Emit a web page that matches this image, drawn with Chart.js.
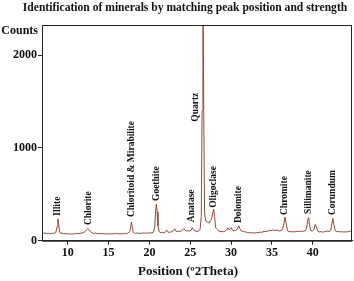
<!DOCTYPE html>
<html>
<head>
<meta charset="utf-8">
<script src="https://cdn.jsdelivr.net/npm/chart.js@4/dist/chart.umd.min.js"></script>
<style>
  html, body { margin:0; padding:0; background:#fff; }
  #wrap { width:354px; height:281px; position:relative; }
</style>
</head>
<body>
<div id="wrap"><canvas id="xrd"></canvas></div>
<script>
// diffractogram
const twoTheta = [
  6.85, 7.0, 7.2, 7.4, 7.6, 7.8, 8.0, 8.2, 8.4, 8.55, 8.7, 8.8, 8.9, 9.0, 9.15, 9.3, 9.5, 9.7, 9.9,
  10.1, 10.3, 10.5, 10.7, 10.9, 11.1, 11.3, 11.5, 11.7, 11.9, 12.1, 12.3, 12.45, 12.6, 12.8,
  13.0, 13.2, 13.4, 13.6, 13.8, 14.0, 14.2, 14.4, 14.6, 14.8, 15.0, 15.2, 15.4, 15.6, 15.8,
  16.0, 16.2, 16.4, 16.6, 16.8, 17.0, 17.2, 17.4, 17.6, 17.7, 17.8, 17.9, 18.0, 18.15, 18.3,
  18.5, 18.7, 18.9, 19.1, 19.3, 19.5, 19.7, 19.9, 20.1, 20.3, 20.5, 20.65, 20.75, 20.85, 20.95,
  21.05, 21.2, 21.4, 21.6, 21.8, 22.0, 22.1, 22.2, 22.4, 22.6, 22.8, 23.0, 23.1, 23.2, 23.4,
  23.6, 23.8, 24.0, 24.2, 24.35, 24.5, 24.7, 24.9, 25.1, 25.25, 25.4, 25.6, 25.8, 26.0, 26.2,
  26.35, 26.45, 26.55, 26.65, 26.75, 26.9, 27.1, 27.3, 27.45, 27.6, 27.75, 27.87, 27.98, 28.1,
  28.25, 28.35, 28.5, 28.7, 28.9, 29.1, 29.3, 29.45, 29.6, 29.75, 29.9, 30.0, 30.15, 30.35,
  30.55, 30.75, 30.95, 31.1, 31.3, 31.5, 31.7, 31.9, 32.1, 32.3, 32.5, 32.7, 32.9, 33.1, 33.3,
  33.5, 33.7, 33.9, 34.1, 34.3, 34.5, 34.7, 34.9, 35.1, 35.3, 35.5, 35.7, 35.9, 36.1, 36.3,
  36.45, 36.6, 36.75, 36.9, 37.1, 37.3, 37.5, 37.7, 37.9, 38.1, 38.3, 38.5, 38.7, 38.9, 39.1,
  39.25, 39.4, 39.5, 39.6, 39.75, 39.95, 40.15, 40.3, 40.45, 40.6, 40.8, 41.0, 41.2, 41.4,
  41.6, 41.8, 42.0, 42.2, 42.35, 42.46, 42.58, 42.75, 42.95, 43.2, 43.4, 43.6, 43.8, 44.0,
  44.2, 44.4, 44.6, 44.8
];
const counts = [
  82, 78, 84, 76, 80, 74, 78, 82, 80, 90, 150, 235, 170, 95, 78, 82, 74, 78, 72,
  76, 70, 74, 72, 76, 78, 74, 80, 82, 86, 96, 118, 130, 120, 96,
  84, 78, 82, 76, 80, 74, 78, 72, 76, 72, 74, 70, 76, 72, 80,
  74, 78, 72, 76, 74, 80, 76, 82, 100, 150, 200, 150, 96, 82, 78,
  84, 76, 82, 78, 86, 80, 84, 80, 86, 84, 92, 150, 300, 395, 310,
  160, 96, 86, 90, 86, 100, 116, 98, 90, 94, 96, 118, 128, 106, 98,
  104, 100, 112, 130, 118, 104, 108, 104, 112, 140, 118, 104, 100, 104, 120,
  260, 1400, 3000, 1400, 300, 210, 200, 190, 215, 230, 300, 340, 260, 140,
  130, 120, 104, 98, 100, 96, 104, 118, 140, 116, 130, 142, 118, 106,
  110, 124, 160, 126, 104, 100, 94, 92, 88, 86, 84, 86, 82, 88, 86,
  92, 90, 96, 100, 98, 104, 110, 108, 116, 112, 110, 114, 104, 110, 120,
  180, 255, 180, 110, 96, 100, 94, 98, 96, 102, 98, 104, 100, 104, 110,
  140, 230, 250, 170, 108, 104, 120, 175, 150, 104, 94, 98, 92, 96,
  100, 104, 98, 110, 190, 240, 180, 108, 96, 100, 94, 98, 92, 96,
  94, 100, 104, 112
];

const xTicks = [10, 15, 20, 25, 30, 35, 40];
const yTicks = [0, 1000, 2000];

// mineral labels: name, 2theta, counts where the text starts
const minerals   = ['Illite', 'Chlorite', 'Chloritoid & Mirabilite', 'Goethite', 'Anatase', 'Quartz', 'Oligoclase', 'Dolomite', 'Chromite', 'Sillimanite', 'Corundum'];
const mineralX   = [8.8, 12.5, 17.8, 20.82, 25.1, 25.65, 27.87, 30.94, 36.5, 39.46, 42.46];
const mineralY   = [270, 169, 255, 428, 200, 1282, 355, 190, 277, 288, 277];

const serif = "'Liberation Serif', 'Times New Roman', serif";

const extras = {
    id: 'extras',
    afterDraw(chart) {
        const { ctx, chartArea: a, scales: { x, y } } = chart;
        ctx.save();
        // frame
        ctx.strokeStyle = '#222';
        ctx.lineWidth = 1;
        ctx.strokeRect(a.left + 0.5, a.top + 0.5, a.right - a.left - 1, a.bottom - a.top);

        ctx.fillStyle = '#111';
        ctx.textBaseline = 'middle';
        ctx.font = `bold 11.6px ${serif}`;
        ctx.textAlign = 'center';
        ctx.fillText('Identification of minerals by matching peak position and strength', 185, 8);

        ctx.font = `bold 12px ${serif}`;
        ctx.textAlign = 'right';
        ctx.fillText('Counts', 38, 31);

        ctx.font = `bold 13px ${serif}`;
        ctx.textAlign = 'center';
        ctx.fillText('Position (\u00BA2Theta)', 188, 272);

        ctx.font = `bold 9.5px ${serif}`;
        ctx.textAlign = 'left';
        minerals.forEach((m, i) => {
            ctx.save();
            ctx.translate(x.getPixelForValue(mineralX[i]), y.getPixelForValue(mineralY[i]));
            ctx.rotate(-Math.PI / 2);
            ctx.fillText(m, 0, 0);
            ctx.restore();
        });
        ctx.restore();
    }
};

new Chart(document.getElementById('xrd'), {
    type: 'line',
    data: {
        datasets: [{
            data: twoTheta.map((t, i) => ({ x: t, y: counts[i] })),
            borderColor: '#8a4b3a',
            borderWidth: 1,
            pointRadius: 0,
            tension: 0,
            fill: false
        }]
    },
    options: {
        responsive: true,
        maintainAspectRatio: false,
        animation: false,
        layout: { padding: { top: 25, right: 2, left: 0, bottom: 0 } },
        plugins: { legend: { display: false }, tooltip: { enabled: false }, title: { display: false } },
        scales: {
            x: {
                type: 'linear', min: 6.85, max: 44.8,
                afterBuildTicks: s => { s.ticks = xTicks.map(v => ({ value: v })); },
                afterFit: s => { s.height = 40.3; },
                grid: { drawOnChartArea: false, tickLength: 4, color: '#222' },
                border: { color: '#222' },
                ticks: { color: '#111', padding: 1, maxRotation: 0, callback: v => String(v), font: { family: serif, size: 12, weight: 'bold' } }
            },
            y: {
                min: 0, max: 2325,
                afterBuildTicks: s => { s.ticks = yTicks.map(v => ({ value: v })); },
                afterFit: s => { s.width = 42; },
                grid: { drawOnChartArea: false, tickLength: 4, color: '#222' },
                border: { color: '#222' },
                ticks: { color: '#111', padding: 1, callback: v => String(v), font: { family: serif, size: 12, weight: 'bold' } }
            }
        }
    },
    plugins: [extras]
});
</script>
</body>
</html>
